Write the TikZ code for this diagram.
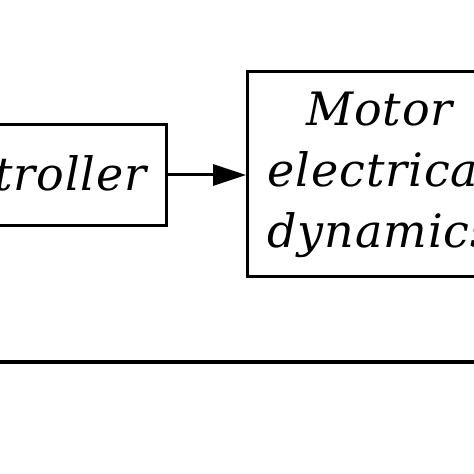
\documentclass[tikz,border=0pt]{standalone}
\usepackage{fontspec}
\setmainfont{DejaVu Serif}[LetterSpace=2]
\usetikzlibrary{arrows.meta}
\begin{document}
\begin{tikzpicture}[x=1pt,y=1pt,
  blockbox/.style={draw=black, line width=3pt, inner ysep=0pt, inner xsep=20pt,
    font=\fontsize{46}{61}\selectfont\itshape, align=center},
  sigline/.style={line width=3pt, -{Triangle[length=33pt,width=21pt]}},
  baseline/.style={line width=3.6pt}]
\useasboundingbox (0,0) rectangle (474,474);
\clip (0,0) rectangle (474,474);
\node[blockbox, minimum height=101pt, text depth=4pt, anchor=east] (ctrl) at (168,299) {Controller};
\node[blockbox, minimum height=205pt, minimum width=264pt, text width=224pt, anchor=west] (motor) at (246,299.5) {Motor\\electrical\\dynamics};
\draw[sigline] (ctrl.east) -- (motor.west |- ctrl.east);
\coordinate (fbL) at (-5,112);
\coordinate (fbR) at (479,112);
\draw[baseline] (fbL) -- (fbR);
\end{tikzpicture}
\end{document}
